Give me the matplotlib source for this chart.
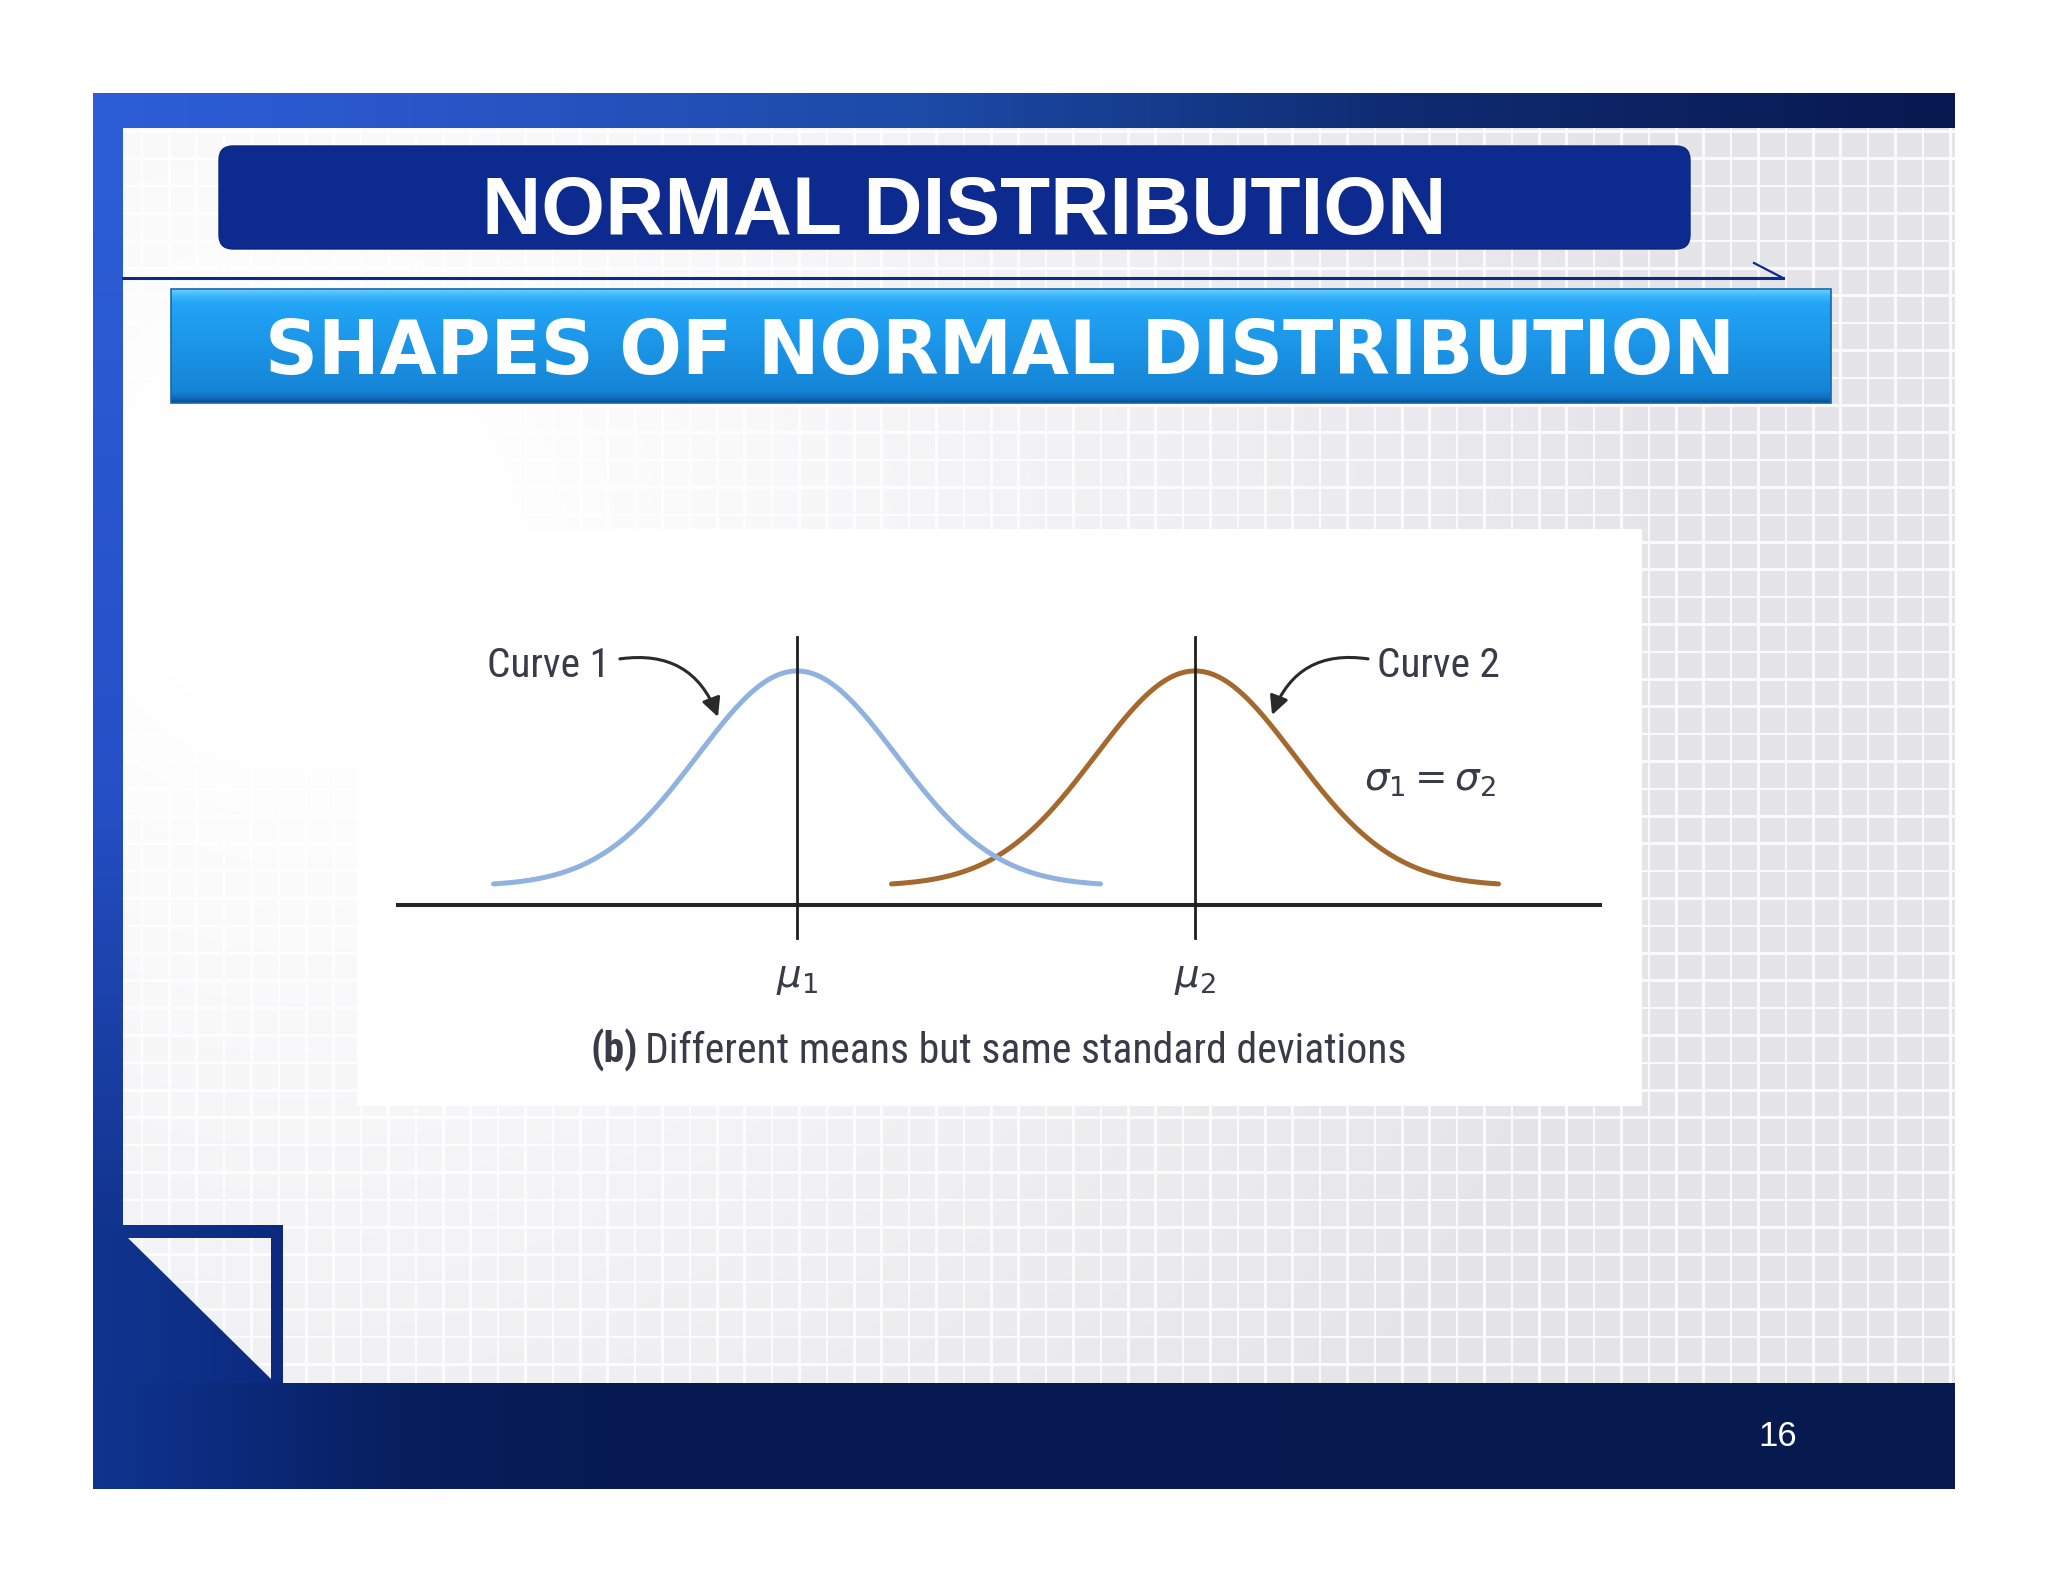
import numpy as np
import matplotlib
matplotlib.use('Agg')
import matplotlib.pyplot as plt
from matplotlib.colors import to_rgb
from matplotlib.patches import FancyBboxPatch, Polygon, Rectangle

# slide texts
title = 'NORMAL DISTRIBUTION'
subtitle = 'SHAPES OF NORMAL DISTRIBUTION'
page_no = '16'

# chart data (x in units of sigma, curves scaled to peak height 1)
means = [10.0, 14.0]
sigmas = [1.0, 1.0]
curve_colors = ['#8fb2df', '#a4692c']
curve_labels = ['Curve 1', 'Curve 2']
mean_labels = [r'$\mu_1$', r'$\mu_2$']
sigma_label = r'$\sigma_1 = \sigma_2$'
axis_range = [5.99, 18.07]
caption_tag = '(b)'
caption = 'Different means but same standard deviations'

W, H = 2048, 1582
narrow = ['Liberation Sans Narrow', 'DejaVu Sans Condensed', 'Roboto Condensed',
          'Liberation Sans']


def grad_img(stops, n, vertical=False):
    pos = [s[0] for s in stops]
    cols = np.array([to_rgb(s[1]) for s in stops])
    t = np.linspace(0, 1, n)
    arr = np.stack([np.interp(t, pos, cols[:, k]) for k in range(3)], axis=-1)
    return arr[:, None, :] if vertical else arr[None, :, :]


def fit_width(texts, target):
    # scale font sizes so the texts together span `target` pixels
    fig.canvas.draw()
    x0 = min(t.get_window_extent().x0 for t in texts)
    x1 = max(t.get_window_extent().x1 for t in texts)
    for t in texts:
        t.set_fontsize(t.get_fontsize() * target / (x1 - x0))


fig = plt.figure(figsize=(W / 100, H / 100), dpi=100)
fig.patch.set_facecolor('white')
bg = fig.add_axes([0, 0, 1, 1])
bg.axis('off')

# grid paper background of the slide
xs = np.arange(123, 1955) + 0.5
ys = np.arange(128, 1383) + 0.5
X, Y = np.meshgrid(xs, ys)
on_line = (((X - 3.6) % 27.4) < 2.6) | (((Y - 20.4) % 27.4) < 2.6)
cell = np.array(to_rgb('#e5e4e9'))
line = np.array(to_rgb('#fafafa'))
paper = np.where(on_line[..., None], line, cell)
glow = np.clip(1.15 - np.hypot(X - 300, Y - 550) / 1200, 0, 1)[..., None]
paper = paper * (1 - glow) + glow
bg.imshow(paper, extent=(123, 1955, 1383, 128), aspect='auto', zorder=1)

# frame bars
top_bar = grad_img([(0, '#2d5ed8'), (0.15, '#2a58cc'), (0.45, '#1c4aa6'),
                    (0.7, '#0f2c72'), (1, '#081850')], 400)
bg.imshow(top_bar, extent=(93, 1955, 128, 93), aspect='auto', zorder=2)
left_bar = grad_img([(0, '#2d5ed8'), (0.6, '#2550c6'), (1, '#12348e')], 300, vertical=True)
bg.imshow(left_bar, extent=(93, 123, 1225, 128), aspect='auto', zorder=2)
bottom_bar = grad_img([(0, '#10358f'), (0.06, '#0c2c80'), (0.166, '#081f5e'),
                       (0.274, '#061a52'), (1, '#071a50')], 600)
bg.imshow(bottom_bar, extent=(93, 1955, 1489, 1383), aspect='auto', zorder=2)
fold = grad_img([(0, '#10358f'), (1, '#0b2a7e')], 100)
bg.imshow(fold, extent=(93, 283, 1383, 1225), aspect='auto', zorder=2)

# folded corner
tri = Polygon([(128, 1238), (271, 1238), (271, 1379)], closed=True,
              facecolor='none', edgecolor='none', zorder=3)
bg.add_patch(tri)
corner = bg.imshow(paper, extent=(123, 1955, 1383, 128), aspect='auto', zorder=3)
corner.set_clip_path(tri)

# title box
bg.add_patch(FancyBboxPatch((219, 146), 1471, 103,
                            boxstyle='round,pad=0,rounding_size=14',
                            facecolor='#0d2a8e', edgecolor='#0b2580', lw=1, zorder=4))
bg.text(964, 234, title, ha='center', va='baseline', color='white',
        family='Liberation Sans', fontweight='bold', fontsize=59, zorder=5)

# rule under the title
bg.plot([123, 1783], [278, 278], color='#0c2a8c', lw=2.2, zorder=4)
bg.plot([1754, 1783], [263, 278], color='#0c2a8c', lw=1.6, zorder=4)

# subtitle bar
sub = grad_img([(0, '#6cd0ff'), (0.06, '#3ab4fa'), (0.13, '#22a4f6'),
                (0.9, '#1584d6'), (0.96, '#126cb8'), (1, '#0d4a8a')], 114, vertical=True)
bg.imshow(sub, extent=(171, 1831, 403, 289), aspect='auto', zorder=4)
bg.add_patch(Rectangle((171, 289), 1660, 114, facecolor='none',
                       edgecolor='#1468b0', lw=1.2, zorder=4))
bg.text(1000, 374, subtitle, ha='center', va='baseline', color='white',
        family='DejaVu Sans', fontweight='bold', fontsize=53, zorder=5)

# page number
bg.text(1778, 1446, page_no, ha='center', va='baseline', color='white',
        family='Liberation Sans', fontsize=25, zorder=5)

bg.set_xlim(0, W)
bg.set_ylim(H, 0)

# chart panel
ax = fig.add_axes([357 / W, 1 - 1106 / H, (1642 - 357) / W, (1106 - 529) / H])
ax.set_facecolor('white')
ax.set_xticks([])
ax.set_yticks([])
for s in ax.spines.values():
    s.set_visible(False)
ax.set_xlim(5.578, 18.492)
ax.set_ylim(-1.023, 1.660)

ax.plot(axis_range, [-0.088, -0.088], color='#262626', lw=2.9, zorder=3)

for mu, sd, col in reversed(list(zip(means, sigmas, curve_colors))):
    x = np.linspace(mu - 3.05 * sd, mu + 3.05 * sd, 300)
    y = np.exp(-0.5 * ((x - mu) / sd) ** 2)
    ax.plot(x, y, color=col, lw=3.6, solid_capstyle='round', zorder=2)

for mu, lab in zip(means, mean_labels):
    ax.plot([mu, mu], [-0.242, 1.158], color='#1e1e1e', lw=2.0, zorder=4)
    ax.text(mu, -0.428, lab, ha='center', va='center', fontsize=28,
            color='#3a3a48')

txt = dict(family=narrow, fontsize=31, color='#3a3a48')
c1 = ax.text(6.884, 0.972, curve_labels[0], ha='left', va='baseline', **txt)
c2 = ax.text(15.829, 0.972, curve_labels[1], ha='left', va='baseline', **txt)
fit_width([c1], 123)
fit_width([c2], 123)

arrow = dict(arrowstyle='-|>', color='#2a2a2a', lw=2.2, mutation_scale=28,
             shrinkA=0, shrinkB=0)
ax.annotate('', xy=(9.206, 0.786), xytext=(8.22, 1.056),
            arrowprops=dict(connectionstyle='arc3,rad=-0.4', **arrow))
ax.annotate('', xy=(14.774, 0.795), xytext=(15.739, 1.056),
            arrowprops=dict(connectionstyle='arc3,rad=0.4', **arrow))
ax.text(16.362, 0.493, sigma_label, ha='center', va='center', fontsize=28,
        color='#3a3a48')

# caption: bold tag then the rest on the same baseline
cap = dict(family=narrow, fontsize=32, color='#3a3a48')
t1 = ax.text(7.92, -0.823, caption_tag, ha='left', va='baseline',
             fontweight='bold', **cap)
t2 = ax.text(8.5, -0.823, caption, ha='left', va='baseline', **cap)
for _ in range(2):
    fig.canvas.draw()
    gap = 0.25 * t1.get_fontsize()
    x2 = ax.transData.inverted().transform((t1.get_window_extent().x1 + gap, 0))[0]
    t2.set_x(x2)
    fit_width([t1, t2], 817)
fig.canvas.draw()
x2 = ax.transData.inverted().transform((t1.get_window_extent().x1 + 0.25 * t1.get_fontsize(), 0))[0]
t2.set_x(x2)

fig.savefig('out.png', dpi=100)
